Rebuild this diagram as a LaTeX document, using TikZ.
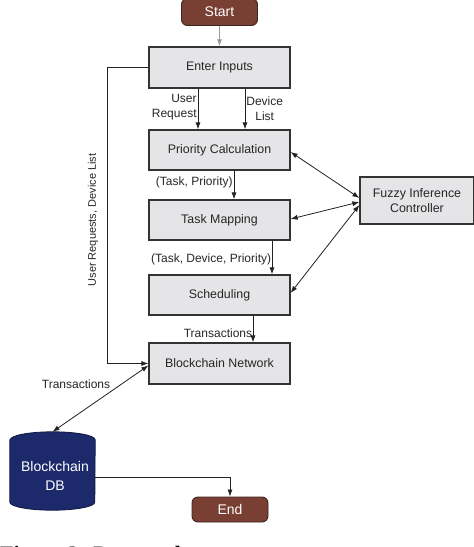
\documentclass[tikz,border=0pt]{standalone}
\usepackage{fontspec}
\setmainfont{Liberation Sans}
\newfontfamily\capfont{Liberation Serif}
\usetikzlibrary{arrows.meta,backgrounds,calc}
\definecolor{termfill}{HTML}{7A3F33}
\definecolor{termdraw}{HTML}{3A2622}
\definecolor{boxfill}{HTML}{E5E5E7}
\definecolor{boxdraw}{HTML}{333333}
\definecolor{dbfill}{HTML}{1C2A6C}
\definecolor{dbdraw}{HTML}{0F173F}
\definecolor{linecol}{HTML}{222222}
\tikzset{
  every node/.style={font=\fontsize{12.4}{15}\selectfont, text=black!85},
  procbox/.style={draw=boxdraw, line width=1.2pt, fill=boxfill, minimum width=141pt, minimum height=40pt, inner sep=0pt},
  termbox/.style={draw=termdraw, line width=0.9pt, fill=termfill, rounded corners=6pt, minimum width=76pt, inner sep=0pt, text=white, font=\fontsize{14}{16}\selectfont},
  arr/.style={draw=linecol, line width=0.8pt, -{Latex[length=7pt,width=5pt]}},
  biarr/.style={draw=linecol, line width=0.8pt, {Latex[length=7pt,width=5pt]}-{Latex[length=7pt,width=5pt]}},
  greyarr/.style={draw=gray!80, line width=0.8pt, -{Latex[length=7pt,width=5pt]}},
  lbl/.style={inner sep=1pt, align=center, font=\fontsize{12}{15}\selectfont},
}
\begin{document}
\begin{tikzpicture}[x=1pt,y=-1pt]
\useasboundingbox (0,0) rectangle (474,547);
% terminals
\node[termbox, minimum height=27pt] (start) at (219.5,12) {Start};
\node[termbox, minimum height=25pt] (end) at (230,509.5) {End};
% process boxes
\node[procbox, minimum height=41pt] (inputs) at (219.5,67.5) {Enter Inputs};
\node[procbox] (prio) at (219.5,150) {Priority Calculation};
\node[procbox] (map) at (219.5,220) {Task Mapping};
\node[procbox] (sched) at (219.5,295) {Scheduling};
\node[procbox, minimum height=41pt] (bcn) at (219.5,363.5) {Blockchain Network};
\node[procbox, minimum width=114pt, minimum height=47pt, align=center] (fuzzy) at (417,200.5) {Fuzzy Inference\\Controller};
% database
\node[minimum width=85pt, minimum height=78pt, inner sep=0pt] (db) at (52.5,471) {};
\begin{scope}[on background layer]
\path[fill=dbfill, draw=dbdraw, line width=0.8pt]
  ([yshift=-8pt]db.north west) -- ([yshift=8pt]db.south west)
  arc[start angle=180, end angle=360, x radius=42.5pt, y radius=8pt]
  -- ([yshift=-8pt]db.north east)
  arc[start angle=0, end angle=180, x radius=42.5pt, y radius=8pt] -- cycle;
\end{scope}
\node[align=center, text=white, font=\fontsize{14}{19}\selectfont, inner sep=0pt] (dbtext) at (55,476) {Blockchain\\DB};
% caption (clipped by page edge)
\node[anchor=base west, inner sep=0pt, font=\capfont\bfseries\fontsize{22}{24}\selectfont, text=black] (cap) at (0,561) {Figure 2: Proposed};
% main flow
\draw[greyarr] (start.south) -- (inputs.north);
\draw[arr] ([xshift=-21.5pt]inputs.south) -- node[lbl, left, align=right, pos=0.45] {User\\Request} ([xshift=-21.5pt]prio.north);
\draw[arr] ([xshift=25.5pt]inputs.south) -- node[lbl, right, pos=0.5] {Device\\List} ([xshift=25.5pt]prio.north);
\draw[arr] ([xshift=14.5pt]prio.south) -- node[lbl, left, pos=0.4] {(Task, Priority)} ([xshift=14.5pt]map.north);
\draw[arr] ([xshift=52.5pt]map.south) -- node[lbl, left, pos=0.55, inner sep=0.5pt] {(Task, Device, Priority)} ([xshift=52.5pt]sched.north);
\draw[arr] ([xshift=33.5pt]sched.south) -- node[lbl, left, pos=0.65, inner sep=0.5pt] {Transactions} ([xshift=33.5pt]bcn.north);
% left feedback line
\draw[arr] (inputs.west) -- ++(-41,0) coordinate (lc) |- (bcn.west);
\node[rotate=90, font=\fontsize{11}{13}\selectfont] (ulbl) at (93,220) {User Requests, Device List};
% fuzzy controller links
\draw[biarr] ([yshift=-2pt]prio.east) -- ([yshift=2.5pt]fuzzy.west);
\draw[biarr] ([yshift=1pt]map.east) -- ([yshift=-1.5pt]fuzzy.west);
\draw[biarr] ([yshift=2pt]sched.east) -- ([yshift=-4.5pt]fuzzy.west);
% database links
\draw[biarr] (db.north) -- node[lbl, pos=0.72, left=10pt] {Transactions} ([yshift=-2pt]bcn.west);
\draw[arr] ([yshift=-6pt]db.east) -| (end.north);
\end{tikzpicture}
\end{document}
